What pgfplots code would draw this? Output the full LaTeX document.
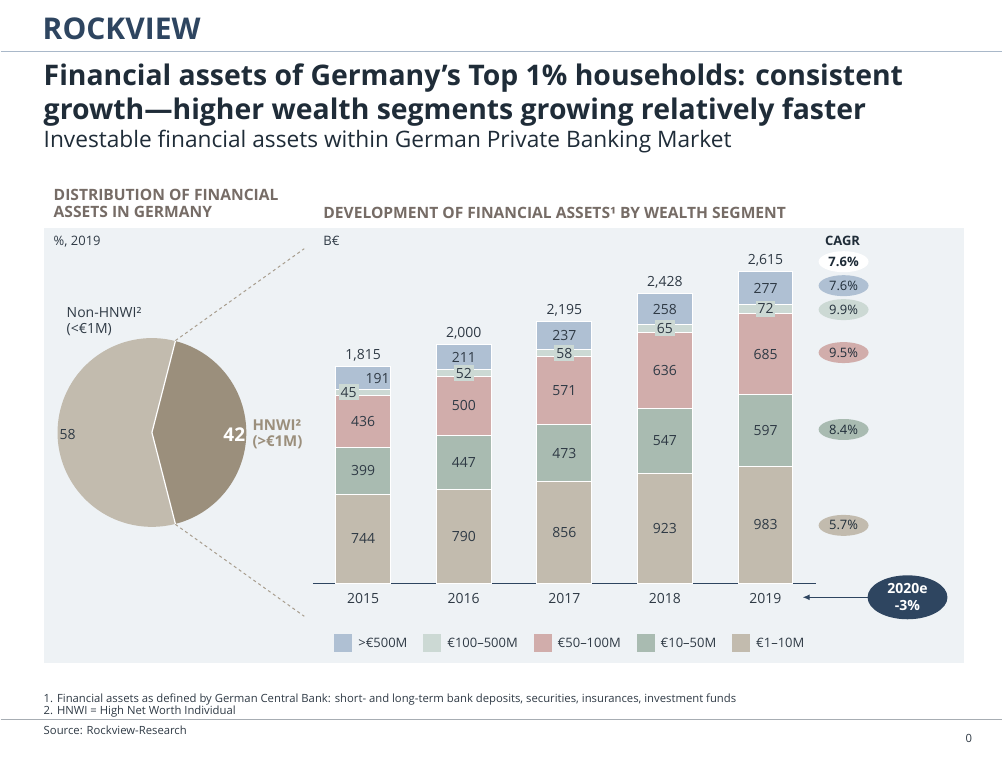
\documentclass[border=0pt]{standalone}
\usepackage{fontspec}
\IfFontExistsTF{Noto Sans Bold}{%
  \setmainfont{Noto Sans}[BoldFont={Noto Sans Bold}]}{%
  \IfFontExistsTF{Open Sans Bold}{%
    \setmainfont{Open Sans}[BoldFont={Open Sans Bold}]}{%
    \setmainfont{Noto Sans}[BoldFeatures={FakeBold=2.5}]}}
\usepackage{pgfplots}
\usepackage{pgfplotstable}
\pgfplotsset{compat=1.18}
\usetikzlibrary{arrows.meta}

\definecolor{navy}{HTML}{2E4560}
\definecolor{ink}{HTML}{1F2C38}
\definecolor{txt}{HTML}{2F3A45}
\definecolor{panel}{HTML}{EEF2F5}
\definecolor{rulec}{HTML}{A9B8C9}
\definecolor{footrule}{HTML}{A7ADB3}
\definecolor{headgray}{HTML}{766C66}
\definecolor{segE}{HTML}{AFC0D3}
\definecolor{segD}{HTML}{CCD9D4}
\definecolor{segC}{HTML}{D1ADAB}
\definecolor{segB}{HTML}{A9BBB1}
\definecolor{segA}{HTML}{C2BBAE}
\definecolor{pieHN}{HTML}{9B8F7C}
\definecolor{pieNon}{HTML}{C2BBAE}
\definecolor{dashc}{HTML}{A89D8E}

\newcommand\fs[2]{\fontsize{#1bp}{#2bp}\selectfont}

\tikzset{
  seglabel/.style={font=\fs{14}{16}, text=txt, inner sep=0},
  smalllabel/.style={font=\fs{14}{16}, text=txt, fill=segD, inner xsep=2bp,
    inner ysep=3bp, text height=10bp, text depth=0bp},
}

% financial assets by wealth segment, B EUR
\pgfplotstableread{
year a b c d e total
2015 744 399 436 45 191 1815
2016 790 447 500 52 211 2000
2017 856 473 571 58 237 2195
2018 923 547 636 65 258 2428
2019 983 597 685 72 277 2615
}\assets

% share of financial assets, %, 2019 (HNWI, non-HNWI)
\pgfplotstableread{
share
42
58
}\pieshare

\begin{document}
\begin{tikzpicture}[x=1bp,y=1bp]
% page
\fill[white] (0,0) rectangle (1003,-757);

% header
\node[anchor=base west, inner sep=0, font=\fs{30}{36}\bfseries, text=navy] at (42,-40) {ROCKVIEW};
\draw[rulec, line width=1.2bp] (0,-51.5) -- (1003,-51.5);
\node[anchor=base west, inner sep=0, font=\fs{28.4}{32}\bfseries, text=ink] at (43,-86) {Financial assets of Germany’s Top 1\% households: consistent};
\node[anchor=base west, inner sep=0, font=\fs{28.4}{32}\bfseries, text=ink] at (43,-120) {growth—higher wealth segments growing relatively faster};
\node[anchor=base west, inner sep=0, font=\fs{22.7}{26}, text=ink] at (43,-148) {Investable financial assets within German Private Banking Market};

% section headings
\node[anchor=base west, inner sep=0, font=\fs{15.6}{17}\bfseries, text=headgray] at (53,-201) {DISTRIBUTION OF FINANCIAL};
\node[anchor=base west, inner sep=0, font=\fs{15.6}{17}\bfseries, text=headgray] at (53,-218) {ASSETS IN GERMANY};
\node[anchor=base west, inner sep=0, font=\fs{15.6}{17}\bfseries, text=headgray] at (323,-219) {DEVELOPMENT OF FINANCIAL ASSETS¹ BY WEALTH SEGMENT};

% panel
\fill[panel] (43,-228) rectangle (965,-664);
\node[anchor=base west, inner sep=0, font=\fs{13}{15}, text=txt] at (53,-246) {\%, 2019};
\node[anchor=base west, inner sep=0, font=\fs{13}{15}, text=txt] at (323,-246) {B€};

% connectors from the HNWI slice to the bars
\draw[dashc, line width=1bp, dash pattern=on 3bp off 3bp] (175,-341) -- (304,-249);
\draw[dashc, line width=1bp, dash pattern=on 3bp off 3bp] (175,-525) -- (304,-617);

% pie
\begin{axis}[at={(151.5bp,-433bp)}, anchor=center, hide axis, scale only axis,
  x=94.5bp, y=94.5bp, xmin=-1, xmax=1, ymin=-1, ymax=1, clip=false]
  \pgfplotstablegetelem{0}{share}\of\pieshare \edef\hn{\pgfplotsretval}
  \pgfmathsetmacro\half{\hn*1.8}
  \edef\tmp{%
    \noexpand\fill[pieNon] (axis cs:0,0) -- (axis cs:{cos(\half)},{sin(\half)})
      arc[start angle=\half, end angle={360-\half}, radius=94.5bp] -- cycle;
    \noexpand\fill[pieHN] (axis cs:0,0) -- (axis cs:{cos(-\half)},{sin(-\half)})
      arc[start angle=-\half, end angle=\half, radius=94.5bp] -- cycle;
    \noexpand\draw[white, line width=1.2bp] (axis cs:{cos(\half)},{sin(\half)})
      -- (axis cs:0,0) -- (axis cs:{cos(-\half)},{sin(-\half)});
  }\tmp
\end{axis}
\node[anchor=base west, inner sep=0, font=\fs{14}{16}, text=txt] at (66,-318) {Non-HNWI²};
\node[anchor=base west, inner sep=0, font=\fs{14}{16}, text=txt] at (66,-334) {(<€1M)};
\node[anchor=base west, inner sep=0, font=\fs{14}{16}, text=txt] at (59,-440) {58};
\node[anchor=base east, inner sep=0, font=\fs{19}{22}\bfseries, text=white] at (245,-442) {42};
\node[anchor=base west, inner sep=0, font=\fs{15}{17}\bfseries, text=pieHN] at (252,-431) {HNWI²};
\node[anchor=base west, inner sep=0, font=\fs{15}{17}\bfseries, text=pieHN] at (252,-447) {(>€1M)};

% stacked bars
\begin{axis}[at={(312.65bp,-584bp)}, anchor=south west, scale only axis,
  x=100.7bp, y=0.1194bp, xmin=2014.5, xmax=2019.5, ymin=0, ymax=2700,
  ybar stacked, bar width=55bp, clip=false,
  axis y line=none, axis x line*=bottom,
  x axis line style={draw=navy, line width=1.2bp, -},
  xtick={2015,...,2019}, xticklabels={2015,2016,2017,2018,2019},
  major tick length=0pt,
  xticklabel style={font=\fs{14}{16}, text=txt, yshift=-7bp},
  every axis plot/.append style={draw=white, line width=1bp},
  legend image code/.code={\fill[#1, draw=none] (0bp,-9bp) rectangle (18bp,9bp);},
  reverse legend,
  legend style={at={(0.51,0)}, anchor=center, yshift=-60bp, draw=none, fill=none,
    font=\fs{13}{15}, text=txt, legend columns=5,
    nodes={inner sep=0bp},
    /tikz/every odd column/.append style={column sep=6bp},
    /tikz/every even column/.append style={column sep=16bp}},
]
\addplot[fill=segA] table[x=year, y=a] {\assets}; \addlegendentry{€1–10M}
\addplot[fill=segB] table[x=year, y=b] {\assets}; \addlegendentry{€10–50M}
\addplot[fill=segC] table[x=year, y=c] {\assets}; \addlegendentry{€50–100M}
\addplot[fill=segD] table[x=year, y=d] {\assets}; \addlegendentry{€100–500M}
\addplot[fill=segE] table[x=year, y=e] {\assets}; \addlegendentry{>€500M}

% anchor points for the value labels (mid of each segment, top of each bar)
\pgfplotsinvokeforeach{0,...,4}{%
  \pgfplotstablegetelem{#1}{year}\of\assets \edef\yr{\pgfplotsretval}%
  \pgfplotstablegetelem{#1}{a}\of\assets \edef\va{\pgfplotsretval}%
  \pgfplotstablegetelem{#1}{b}\of\assets \edef\vb{\pgfplotsretval}%
  \pgfplotstablegetelem{#1}{c}\of\assets \edef\vc{\pgfplotsretval}%
  \pgfplotstablegetelem{#1}{d}\of\assets \edef\vd{\pgfplotsretval}%
  \pgfplotstablegetelem{#1}{e}\of\assets \edef\ve{\pgfplotsretval}%
  \pgfmathsetmacro\ya{\va/2}%
  \pgfmathsetmacro\yb{\va+\vb/2}%
  \pgfmathsetmacro\yc{\va+\vb+\vc/2}%
  \pgfmathsetmacro\yd{\va+\vb+\vc+\vd/2}%
  \pgfmathsetmacro\ye{\va+\vb+\vc+\vd+\ve/2}%
  \pgfmathsetmacro\ytop{\va+\vb+\vc+\vd+\ve}%
  \edef\tmp{%
    \noexpand\coordinate (la#1) at (axis cs:\yr,\ya);
    \noexpand\coordinate (lb#1) at (axis cs:\yr,\yb);
    \noexpand\coordinate (lc#1) at (axis cs:\yr,\yc);
    \noexpand\coordinate (ld#1) at (axis cs:\yr,\yd);
    \noexpand\coordinate (le#1) at (axis cs:\yr,\ye);
    \noexpand\coordinate (lt#1) at (axis cs:\yr,\ytop);
  }\tmp
}
\end{axis}

% value labels
\pgfplotsinvokeforeach{0,...,4}{%
  \pgfplotstablegetelem{#1}{a}\of\assets \edef\va{\pgfplotsretval}%
  \pgfplotstablegetelem{#1}{b}\of\assets \edef\vb{\pgfplotsretval}%
  \pgfplotstablegetelem{#1}{c}\of\assets \edef\vc{\pgfplotsretval}%
  \pgfplotstablegetelem{#1}{d}\of\assets \edef\vd{\pgfplotsretval}%
  \pgfplotstablegetelem{#1}{e}\of\assets \edef\ve{\pgfplotsretval}%
  \pgfplotstablegetelem{#1}{total}\of\assets \edef\vt{\pgfplotsretval}%
  \ifnum#1=0 \def\dxd{-14.5}\def\dxe{14.5}\else\def\dxd{0}\def\dxe{0}\fi
  \node[seglabel] at (la#1) {\va};
  \node[seglabel] at (lb#1) {\vb};
  \node[seglabel] at (lc#1) {\vc};
  \node[smalllabel] at ([xshift=\dxd bp]ld#1) {\vd};
  \node[seglabel] at ([xshift=\dxe bp]le#1) {\ve};
  \node[seglabel, anchor=base] at ([yshift=7bp]lt#1)
    {\pgfmathprintnumber[1000 sep={,}, assume math mode=true]{\vt}};
}

% CAGR column
\node[anchor=base, inner sep=0, font=\fs{13}{15}\bfseries, text=ink] at (843,-246) {CAGR};
\foreach \yy/\cc/\tt/\ff in {262/white/7.6\%/\bfseries, 286/segE/7.6\%/, 310/segD/9.9\%/,
    353/segC/9.5\%/, 430/segB/8.4\%/, 526/segA/5.7\%/}{
  \fill[\cc] (844,-\yy) ellipse [x radius=25, y radius=10.5];
  \node[inner sep=0, font=\fs{13}{15}\ff, text=ink] at (844,-\yy) {\tt};
}

% 2020 estimate
\fill[navy] (908,-598) ellipse [x radius=40, y radius=22];
\node[align=center, inner sep=0, font=\fs{14}{17}\bfseries, text=white] at (908,-598) {2020e\\-3\%};
\draw[navy, line width=1.2bp, -{Latex[length=7bp, width=6bp]}] (868,-598) -- (803,-598);

% footnotes
\node[anchor=base west, inner sep=0, font=\fs{11.3}{13}, text=txt] at (43,-703) {1. Financial assets as defined by German Central Bank: short- and long-term bank deposits, securities, insurances, investment funds};
\node[anchor=base west, inner sep=0, font=\fs{11.3}{13}, text=txt] at (43,-715) {2. HNWI = High Net Worth Individual};
\draw[footrule, line width=1bp] (0,-720.5) -- (1003,-720.5);
\node[anchor=base west, inner sep=0, font=\fs{11.3}{13}, text=txt] at (43,-735) {Source: Rockview-Research};
\node[anchor=base west, inner sep=0, font=\fs{11.3}{13}, text=txt] at (966,-743) {0};
\end{tikzpicture}
\end{document}
